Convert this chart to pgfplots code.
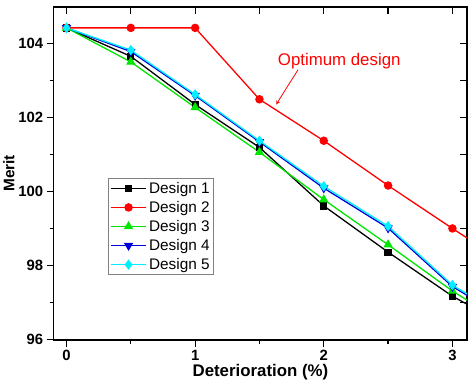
\documentclass[border=0pt]{standalone}
\usepackage{pgfplots}
\pgfplotsset{compat=1.18}
\usepackage{fontspec}
\setmainfont{Liberation Sans}
\definecolor{cRed}{RGB}{255,0,0}
\definecolor{cGreen}{RGB}{0,230,0}
\definecolor{cBlue}{RGB}{0,0,220}
\definecolor{cCyan}{RGB}{0,240,255}
\begin{document}
\begin{tikzpicture}
\pgfplotsset{
  common/.style={
    scale only axis, width=416bp, height=335bp,
    xmin=-0.1, xmax=3.115, ymin=96, ymax=105,
    xtick={0,1,2,3}, ytick={96,98,100,102,104},
    minor xtick={0.5,1.5,2.5}, minor ytick={97,99,101,103},
  }
}
\begin{axis}[common,
  axis line style={line width=1.6bp},
  tick align=outside, xtick pos=bottom, ytick pos=left,
  major tick length=7bp, minor tick length=4bp,
  tick style={line width=1.2bp, black},
  /pgf/number format/assume math mode=true,
  ticklabel style={font=\bfseries\fontsize{15}{18}\selectfont},
  xlabel={Deterioration (\%)}, ylabel={Merit},
  xlabel style={font=\bfseries\fontsize{17}{20}\selectfont, yshift=3bp},
  ylabel style={font=\bfseries\fontsize{15.5}{18}\selectfont, yshift=-3bp},
  legend style={at={(0.132,0.485)}, anchor=north west, draw=gray, line width=0.6bp,
    font=\fontsize{15.5}{17}\selectfont, inner sep=1.5bp, row sep=2.5bp, cells={anchor=west}},
  legend image code/.code={\draw[mark repeat=2,mark phase=2] plot coordinates {(0bp,0bp)(18bp,0bp)(36bp,0bp)};},
  every axis plot/.append style={line width=1.3bp},
]
\addplot[black, mark=square*, mark size=3bp] coordinates {
(0,104.43)(0.5,103.66)(1,102.36)(1.5,101.2)(2,99.62)(2.5,98.37)(3,97.18)(3.5,96.22)};
\addlegendentry{Design 1}
\addplot[cRed, mark=*, mark size=3.6bp] coordinates {
(0,104.43)(0.5,104.43)(1,104.43)(1.5,102.5)(2,101.38)(2.5,100.17)(3,99.01)(3.5,97.88)};
\addlegendentry{Design 2}
\addplot[cGreen, mark=triangle*, mark size=4.2bp] coordinates {
(0,104.43)(0.5,103.51)(1,102.28)(1.5,101.07)(2,99.79)(2.5,98.57)(3,97.32)(3.5,96.23)};
\addlegendentry{Design 3}
\addplot[cBlue, mark=triangle*, mark size=4.2bp, mark options={rotate=180}] coordinates {
(0,104.43)(0.5,103.79)(1,102.6)(1.5,101.35)(2,100.1)(2.5,99.02)(3,97.44)(3.5,96.4)};
\addlegendentry{Design 4}
\addplot[cCyan, mark=diamond*, mark size=4.2bp] coordinates {
(0,104.43)(0.5,103.83)(1,102.63)(1.5,101.38)(2,100.15)(2.5,99.07)(3,97.48)(3.5,96.44)};
\addlegendentry{Design 5}
\node[cRed, font=\fontsize{17}{20}\selectfont] at (axis cs:2.12,103.52) {Optimum design};
\draw[cRed, line width=0.8bp, -stealth] (axis cs:1.8,103.3) -- (axis cs:1.63,102.36);
\end{axis}
\begin{axis}[common,
  axis line style={draw=none},
  tick align=inside, xtick pos=top, ytick pos=right,
  major tick length=7bp, minor tick length=7bp,
  tick style={line width=1.2bp, black},
  xticklabels={}, yticklabels={},
]
\end{axis}
\end{tikzpicture}
\end{document}
